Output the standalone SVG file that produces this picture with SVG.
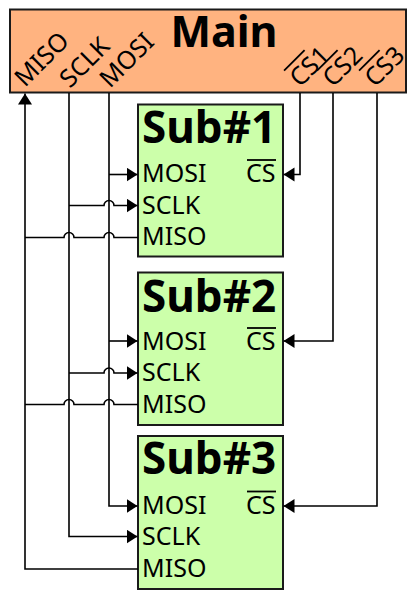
<svg xmlns="http://www.w3.org/2000/svg" width="415" height="599" viewBox="0 0 415 599">
<style>
.box{stroke:#1a1a1a;stroke-width:2}
.main{fill:#ffb380}
.sub{fill:#ccffaa}
.t{font-family:"Noto Sans","Open Sans",sans-serif;fill:#000}
.title{font-size:44px;font-weight:bold}
.lbl{font-size:25px}
.ov{stroke:#000;stroke-width:1.8}
.c{fill:none;stroke:#000;stroke-width:1.6}
</style>
<defs>
<marker id="ah" markerUnits="userSpaceOnUse" markerWidth="12" markerHeight="15" refX="11" refY="7" orient="auto" viewBox="0 0 12 15">
<path d="M0,0 L11,7 L0,14 z" fill="#000"/>
</marker>
</defs>
<g id="main">
<rect class="box main" x="10" y="9.5" width="396" height="83"/>
<text class="t title" x="224" y="46.5" text-anchor="middle" style="font-size:43px">Main</text>
<text class="t lbl" transform="translate(25,88) rotate(-45)">MISO</text>
<text class="t lbl" transform="translate(70,89) rotate(-45)">SCLK</text>
<text class="t lbl" transform="translate(110,89) rotate(-45)">MOSI</text>
<g transform="translate(300,88) rotate(-45)"><text class="t lbl">CS1</text><line class="ov" x1="1" y1="-23.5" x2="30" y2="-23.5"/></g>
<g transform="translate(333,88) rotate(-45)"><text class="t lbl">CS2</text><line class="ov" x1="1" y1="-23.5" x2="30" y2="-23.5"/></g>
<g transform="translate(375,88) rotate(-45)"><text class="t lbl">CS3</text><line class="ov" x1="1" y1="-23.5" x2="30" y2="-23.5"/></g>
</g>
<g id="sub1">
<rect class="box sub" x="138" y="104.5" width="145" height="152"/>
<text class="t title" x="142" y="143">Sub#1</text>
<text class="t lbl" x="142" y="182">MOSI</text>
<text class="t lbl" x="142" y="213.5">SCLK</text>
<text class="t lbl" x="142" y="245">MISO</text>
<text class="t lbl" x="246" y="182">CS</text>
<line class="ov" x1="247" y1="160" x2="276" y2="160"/>
</g>
<g id="sub2">
<rect class="box sub" x="138" y="272.5" width="145" height="152.5"/>
<text class="t title" x="142" y="311.5">Sub#2</text>
<text class="t lbl" x="142" y="350">MOSI</text>
<text class="t lbl" x="142" y="381">SCLK</text>
<text class="t lbl" x="142" y="412.5">MISO</text>
<text class="t lbl" x="246" y="350">CS</text>
<line class="ov" x1="247" y1="328" x2="276" y2="328"/>
</g>
<g id="sub3">
<rect class="box sub" x="138" y="436" width="145" height="153"/>
<text class="t title" x="142" y="474">Sub#3</text>
<text class="t lbl" x="142" y="513.5">MOSI</text>
<text class="t lbl" x="142" y="544.5">SCLK</text>
<text class="t lbl" x="142" y="576.5">MISO</text>
<text class="t lbl" x="246" y="513.5">CS</text>
<line class="ov" x1="247" y1="491.5" x2="276" y2="491.5"/>
</g>
<g id="connectors">
<path class="c" d="M138,569 H25 V93.5" marker-end="url(#ah)"/>
<path class="c" d="M69,93 V536.5 H137.5" marker-end="url(#ah)"/>
<path class="c" d="M109,93 V506 H137.5" marker-end="url(#ah)"/>
<path class="c" d="M109,174.5 H137.5" marker-end="url(#ah)"/>
<path class="c" d="M69,205.5 H104 a5,5 0 0 1 10,0 H137.5" marker-end="url(#ah)"/>
<path class="c" d="M25,237.5 H64 a5,5 0 0 1 10,0 H104 a5,5 0 0 1 10,0 H138"/>
<path class="c" d="M109,341 H137.5" marker-end="url(#ah)"/>
<path class="c" d="M69,373 H104 a5,5 0 0 1 10,0 H137.5" marker-end="url(#ah)"/>
<path class="c" d="M25,404.5 H64 a5,5 0 0 1 10,0 H104 a5,5 0 0 1 10,0 H138"/>
<path class="c" d="M300,93 V174.5 H283.5" marker-end="url(#ah)"/>
<path class="c" d="M333,93 V341 H283.5" marker-end="url(#ah)"/>
<path class="c" d="M377,93 V506 H283.5" marker-end="url(#ah)"/>
</g>
</svg>
